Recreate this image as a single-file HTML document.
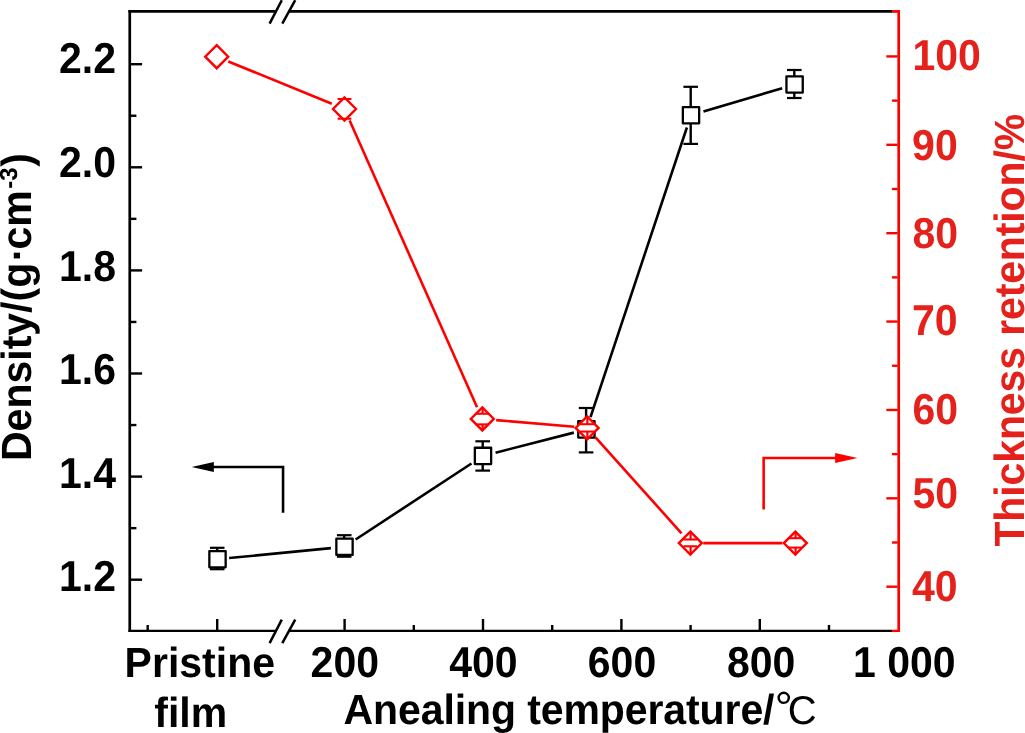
<!DOCTYPE html>
<html lang="en"><head><meta charset="utf-8"><title>Density and thickness retention vs annealing temperature</title>
<style>
html,body{margin:0;padding:0;background:#fff;}
body{width:1025px;height:733px;overflow:hidden;}
svg{display:block;}
text{font-family:"Liberation Sans","Noto Sans CJK SC",sans-serif;font-weight:bold;font-size:41px;text-rendering:geometricPrecision;}
.r{fill:#e5211b;}
.k{fill:#000000;}
</style></head><body>
<svg width="1025" height="733" viewBox="0 0 1025 733">
<rect x="0" y="0" width="1025" height="733" fill="#ffffff"/>
<g id="axes">
<line x1="128.40" y1="11.45" x2="275.70" y2="11.45" stroke="#000000" stroke-width="2.80" stroke-linecap="butt"/>
<line x1="288.70" y1="11.45" x2="892.00" y2="11.45" stroke="#000000" stroke-width="2.80" stroke-linecap="butt"/>
<line x1="128.40" y1="630.90" x2="275.70" y2="630.90" stroke="#000000" stroke-width="2.35" stroke-linecap="butt"/>
<line x1="288.70" y1="630.90" x2="892.00" y2="630.90" stroke="#000000" stroke-width="2.35" stroke-linecap="butt"/>
<line x1="129.75" y1="10.05" x2="129.75" y2="632.10" stroke="#000000" stroke-width="2.70" stroke-linecap="butt"/>
<line x1="898.70" y1="10.05" x2="898.70" y2="632.10" stroke="#ff0000" stroke-width="2.70" stroke-linecap="butt"/>
<line x1="891.90" y1="11.45" x2="898.70" y2="11.45" stroke="#ff0000" stroke-width="2.80" stroke-linecap="butt"/>
<line x1="891.90" y1="630.90" x2="898.70" y2="630.90" stroke="#ff0000" stroke-width="2.35" stroke-linecap="butt"/>
<line x1="269.60" y1="643.10" x2="281.80" y2="619.70" stroke="#000000" stroke-width="2.50" stroke-linecap="butt"/>
<line x1="269.60" y1="23.65" x2="281.80" y2="0.25" stroke="#000000" stroke-width="2.50" stroke-linecap="butt"/>
<line x1="282.30" y1="643.10" x2="295.20" y2="619.70" stroke="#000000" stroke-width="2.50" stroke-linecap="butt"/>
<line x1="282.30" y1="23.65" x2="295.20" y2="0.25" stroke="#000000" stroke-width="2.50" stroke-linecap="butt"/>
</g>
<g id="ticks">
<line x1="130.80" y1="579.70" x2="142.10" y2="579.70" stroke="#000000" stroke-width="2.40" stroke-linecap="butt"/>
<line x1="130.80" y1="476.60" x2="142.10" y2="476.60" stroke="#000000" stroke-width="2.40" stroke-linecap="butt"/>
<line x1="130.80" y1="373.50" x2="142.10" y2="373.50" stroke="#000000" stroke-width="2.40" stroke-linecap="butt"/>
<line x1="130.80" y1="270.40" x2="142.10" y2="270.40" stroke="#000000" stroke-width="2.40" stroke-linecap="butt"/>
<line x1="130.80" y1="167.30" x2="142.10" y2="167.30" stroke="#000000" stroke-width="2.40" stroke-linecap="butt"/>
<line x1="130.80" y1="64.20" x2="142.10" y2="64.20" stroke="#000000" stroke-width="2.40" stroke-linecap="butt"/>
<line x1="130.80" y1="528.15" x2="136.40" y2="528.15" stroke="#000000" stroke-width="2.40" stroke-linecap="butt"/>
<line x1="130.80" y1="425.05" x2="136.40" y2="425.05" stroke="#000000" stroke-width="2.40" stroke-linecap="butt"/>
<line x1="130.80" y1="321.95" x2="136.40" y2="321.95" stroke="#000000" stroke-width="2.40" stroke-linecap="butt"/>
<line x1="130.80" y1="218.85" x2="136.40" y2="218.85" stroke="#000000" stroke-width="2.40" stroke-linecap="butt"/>
<line x1="130.80" y1="115.75" x2="136.40" y2="115.75" stroke="#000000" stroke-width="2.40" stroke-linecap="butt"/>
<line x1="897.65" y1="586.70" x2="886.35" y2="586.70" stroke="#ff0000" stroke-width="2.40" stroke-linecap="butt"/>
<line x1="897.65" y1="498.32" x2="886.35" y2="498.32" stroke="#ff0000" stroke-width="2.40" stroke-linecap="butt"/>
<line x1="897.65" y1="409.94" x2="886.35" y2="409.94" stroke="#ff0000" stroke-width="2.40" stroke-linecap="butt"/>
<line x1="897.65" y1="321.56" x2="886.35" y2="321.56" stroke="#ff0000" stroke-width="2.40" stroke-linecap="butt"/>
<line x1="897.65" y1="233.18" x2="886.35" y2="233.18" stroke="#ff0000" stroke-width="2.40" stroke-linecap="butt"/>
<line x1="897.65" y1="144.80" x2="886.35" y2="144.80" stroke="#ff0000" stroke-width="2.40" stroke-linecap="butt"/>
<line x1="897.65" y1="56.42" x2="886.35" y2="56.42" stroke="#ff0000" stroke-width="2.40" stroke-linecap="butt"/>
<line x1="897.65" y1="542.51" x2="892.05" y2="542.51" stroke="#ff0000" stroke-width="2.40" stroke-linecap="butt"/>
<line x1="897.65" y1="454.13" x2="892.05" y2="454.13" stroke="#ff0000" stroke-width="2.40" stroke-linecap="butt"/>
<line x1="897.65" y1="365.75" x2="892.05" y2="365.75" stroke="#ff0000" stroke-width="2.40" stroke-linecap="butt"/>
<line x1="897.65" y1="277.37" x2="892.05" y2="277.37" stroke="#ff0000" stroke-width="2.40" stroke-linecap="butt"/>
<line x1="897.65" y1="188.99" x2="892.05" y2="188.99" stroke="#ff0000" stroke-width="2.40" stroke-linecap="butt"/>
<line x1="897.65" y1="100.61" x2="892.05" y2="100.61" stroke="#ff0000" stroke-width="2.40" stroke-linecap="butt"/>
<line x1="217.20" y1="630.10" x2="217.20" y2="619.00" stroke="#000000" stroke-width="2.40" stroke-linecap="butt"/>
<line x1="344.60" y1="630.10" x2="344.60" y2="619.00" stroke="#000000" stroke-width="2.40" stroke-linecap="butt"/>
<line x1="483.00" y1="630.10" x2="483.00" y2="619.00" stroke="#000000" stroke-width="2.40" stroke-linecap="butt"/>
<line x1="621.40" y1="630.10" x2="621.40" y2="619.00" stroke="#000000" stroke-width="2.40" stroke-linecap="butt"/>
<line x1="759.80" y1="630.10" x2="759.80" y2="619.00" stroke="#000000" stroke-width="2.40" stroke-linecap="butt"/>
<line x1="147.70" y1="630.10" x2="147.70" y2="625.00" stroke="#000000" stroke-width="2.40" stroke-linecap="butt"/>
<line x1="413.80" y1="630.10" x2="413.80" y2="625.00" stroke="#000000" stroke-width="2.40" stroke-linecap="butt"/>
<line x1="552.20" y1="630.10" x2="552.20" y2="625.00" stroke="#000000" stroke-width="2.40" stroke-linecap="butt"/>
<line x1="690.60" y1="630.10" x2="690.60" y2="625.00" stroke="#000000" stroke-width="2.40" stroke-linecap="butt"/>
<line x1="829.00" y1="630.10" x2="829.00" y2="625.00" stroke="#000000" stroke-width="2.40" stroke-linecap="butt"/>
</g>
<g id="series-density">
<line x1="229.14" y1="558.06" x2="330.86" y2="548.13" stroke="#000000" stroke-width="2.60" stroke-linecap="butt"/>
<line x1="355.62" y1="539.50" x2="471.46" y2="463.47" stroke="#000000" stroke-width="2.60" stroke-linecap="butt"/>
<line x1="495.59" y1="452.67" x2="573.81" y2="432.63" stroke="#000000" stroke-width="2.60" stroke-linecap="butt"/>
<line x1="590.51" y1="417.07" x2="686.89" y2="127.53" stroke="#000000" stroke-width="2.60" stroke-linecap="butt"/>
<line x1="703.46" y1="111.50" x2="782.14" y2="88.15" stroke="#000000" stroke-width="2.60" stroke-linecap="butt"/>
<line x1="217.20" y1="547.80" x2="217.20" y2="569.20" stroke="#000000" stroke-width="2.40" stroke-linecap="butt"/>
<line x1="209.90" y1="547.80" x2="224.50" y2="547.80" stroke="#000000" stroke-width="2.20" stroke-linecap="butt"/>
<line x1="209.90" y1="569.20" x2="224.50" y2="569.20" stroke="#000000" stroke-width="2.20" stroke-linecap="butt"/>
<line x1="344.20" y1="535.20" x2="344.20" y2="556.70" stroke="#000000" stroke-width="2.40" stroke-linecap="butt"/>
<line x1="336.90" y1="535.20" x2="351.50" y2="535.20" stroke="#000000" stroke-width="2.20" stroke-linecap="butt"/>
<line x1="336.90" y1="556.70" x2="351.50" y2="556.70" stroke="#000000" stroke-width="2.20" stroke-linecap="butt"/>
<line x1="482.70" y1="441.30" x2="482.70" y2="470.60" stroke="#000000" stroke-width="2.40" stroke-linecap="butt"/>
<line x1="475.40" y1="441.30" x2="490.00" y2="441.30" stroke="#000000" stroke-width="2.20" stroke-linecap="butt"/>
<line x1="475.40" y1="470.60" x2="490.00" y2="470.60" stroke="#000000" stroke-width="2.20" stroke-linecap="butt"/>
<line x1="586.10" y1="408.00" x2="586.10" y2="452.40" stroke="#000000" stroke-width="2.40" stroke-linecap="butt"/>
<line x1="578.80" y1="408.00" x2="593.40" y2="408.00" stroke="#000000" stroke-width="2.20" stroke-linecap="butt"/>
<line x1="578.80" y1="452.40" x2="593.40" y2="452.40" stroke="#000000" stroke-width="2.20" stroke-linecap="butt"/>
<line x1="690.70" y1="86.80" x2="690.70" y2="143.90" stroke="#000000" stroke-width="2.40" stroke-linecap="butt"/>
<line x1="683.40" y1="86.80" x2="698.00" y2="86.80" stroke="#000000" stroke-width="2.20" stroke-linecap="butt"/>
<line x1="683.40" y1="143.90" x2="698.00" y2="143.90" stroke="#000000" stroke-width="2.20" stroke-linecap="butt"/>
<line x1="794.30" y1="70.00" x2="794.30" y2="98.00" stroke="#000000" stroke-width="2.40" stroke-linecap="butt"/>
<line x1="787.00" y1="70.00" x2="801.60" y2="70.00" stroke="#000000" stroke-width="2.20" stroke-linecap="butt"/>
<line x1="787.00" y1="98.00" x2="801.60" y2="98.00" stroke="#000000" stroke-width="2.20" stroke-linecap="butt"/>
<rect x="209.35" y="551.05" width="16.30" height="16.30" fill="#ffffff" stroke="#000000" stroke-width="2.3" stroke-linejoin="round"/>
<rect x="336.35" y="538.65" width="16.30" height="16.30" fill="#ffffff" stroke="#000000" stroke-width="2.3" stroke-linejoin="round"/>
<rect x="474.85" y="447.75" width="16.30" height="16.30" fill="#ffffff" stroke="#000000" stroke-width="2.3" stroke-linejoin="round"/>
<rect x="578.25" y="421.25" width="16.30" height="16.30" fill="#ffffff" stroke="#000000" stroke-width="2.3" stroke-linejoin="round"/>
<rect x="682.85" y="107.05" width="16.30" height="16.30" fill="#ffffff" stroke="#000000" stroke-width="2.3" stroke-linejoin="round"/>
<rect x="786.45" y="76.30" width="16.30" height="16.30" fill="#ffffff" stroke="#000000" stroke-width="2.3" stroke-linejoin="round"/>
</g>
<g id="series-thickness">
<line x1="228.27" y1="61.43" x2="331.82" y2="103.81" stroke="#ff0000" stroke-width="2.60" stroke-linecap="butt"/>
<line x1="349.62" y1="120.51" x2="477.06" y2="407.16" stroke="#ff0000" stroke-width="2.60" stroke-linecap="butt"/>
<line x1="496.15" y1="420.13" x2="574.25" y2="426.80" stroke="#ff0000" stroke-width="2.60" stroke-linecap="butt"/>
<line x1="595.51" y1="437.28" x2="681.49" y2="533.27" stroke="#ff0000" stroke-width="2.60" stroke-linecap="butt"/>
<line x1="703.20" y1="543.10" x2="782.40" y2="543.10" stroke="#ff0000" stroke-width="2.60" stroke-linecap="butt"/>
<path d="M216.70 45.20 L228.20 56.70 L216.70 68.20 L205.20 56.70 Z" fill="#ffffff" stroke="#ff0000" stroke-width="2.4" stroke-linejoin="miter"/>
<path d="M344.50 97.50 L356.00 109.00 L344.50 120.50 L333.00 109.00 Z" fill="#ffffff" stroke="#ff0000" stroke-width="2.4" stroke-linejoin="miter"/>
<line x1="344.80" y1="97.00" x2="344.80" y2="99.00" stroke="#ff0000" stroke-width="2.20" stroke-linecap="butt"/>
<line x1="344.80" y1="118.70" x2="344.80" y2="121.00" stroke="#ff0000" stroke-width="2.20" stroke-linecap="butt"/>
<line x1="337.60" y1="99.00" x2="351.40" y2="99.00" stroke="#ff0000" stroke-width="2.10" stroke-linecap="butt"/>
<line x1="337.60" y1="118.70" x2="351.40" y2="118.70" stroke="#ff0000" stroke-width="2.10" stroke-linecap="butt"/>
<path d="M482.30 407.45 L493.80 418.95 L482.30 430.45 L470.80 418.95 Z" fill="#ffffff" stroke="#ff0000" stroke-width="2.4" stroke-linejoin="miter"/>
<line x1="482.60" y1="406.95" x2="482.60" y2="413.75" stroke="#ff0000" stroke-width="2.20" stroke-linecap="butt"/>
<line x1="482.60" y1="424.40" x2="482.60" y2="430.95" stroke="#ff0000" stroke-width="2.20" stroke-linecap="butt"/>
<line x1="475.40" y1="413.75" x2="489.20" y2="413.75" stroke="#ff0000" stroke-width="2.10" stroke-linecap="butt"/>
<line x1="475.40" y1="424.40" x2="489.20" y2="424.40" stroke="#ff0000" stroke-width="2.10" stroke-linecap="butt"/>
<path d="M587.10 416.40 L598.60 427.90 L587.10 439.40 L575.60 427.90 Z" fill="#ffffff" stroke="#ff0000" stroke-width="2.4" stroke-linejoin="miter"/>
<line x1="587.40" y1="415.90" x2="587.40" y2="424.20" stroke="#ff0000" stroke-width="2.20" stroke-linecap="butt"/>
<line x1="587.40" y1="431.55" x2="587.40" y2="439.90" stroke="#ff0000" stroke-width="2.20" stroke-linecap="butt"/>
<line x1="580.20" y1="424.20" x2="594.00" y2="424.20" stroke="#ff0000" stroke-width="2.10" stroke-linecap="butt"/>
<line x1="580.20" y1="431.55" x2="594.00" y2="431.55" stroke="#ff0000" stroke-width="2.10" stroke-linecap="butt"/>
<path d="M690.30 531.60 L701.80 543.10 L690.30 554.60 L678.80 543.10 Z" fill="#ffffff" stroke="#ff0000" stroke-width="2.4" stroke-linejoin="miter"/>
<line x1="690.60" y1="531.10" x2="690.60" y2="539.50" stroke="#ff0000" stroke-width="2.20" stroke-linecap="butt"/>
<line x1="690.60" y1="546.30" x2="690.60" y2="555.10" stroke="#ff0000" stroke-width="2.20" stroke-linecap="butt"/>
<line x1="683.40" y1="539.50" x2="697.20" y2="539.50" stroke="#ff0000" stroke-width="2.10" stroke-linecap="butt"/>
<line x1="683.40" y1="546.30" x2="697.20" y2="546.30" stroke="#ff0000" stroke-width="2.10" stroke-linecap="butt"/>
<path d="M795.30 531.60 L806.80 543.10 L795.30 554.60 L783.80 543.10 Z" fill="#ffffff" stroke="#ff0000" stroke-width="2.4" stroke-linejoin="miter"/>
<line x1="795.60" y1="531.10" x2="795.60" y2="538.20" stroke="#ff0000" stroke-width="2.20" stroke-linecap="butt"/>
<line x1="795.60" y1="547.60" x2="795.60" y2="555.10" stroke="#ff0000" stroke-width="2.20" stroke-linecap="butt"/>
<line x1="788.40" y1="538.20" x2="802.20" y2="538.20" stroke="#ff0000" stroke-width="2.10" stroke-linecap="butt"/>
<line x1="788.40" y1="547.60" x2="802.20" y2="547.60" stroke="#ff0000" stroke-width="2.10" stroke-linecap="butt"/>
</g>
<g id="arrows">
<path d="M283.05 512.7 L283.05 467 L213 467" fill="none" stroke="#000000" stroke-width="2.6" stroke-linejoin="miter"/>
<path d="M191.7 467 L213.8 462.1 L213.8 471.9 Z" fill="#000000"/>
<path d="M763.65 509.6 L763.65 458 L836 458" fill="none" stroke="#ff0000" stroke-width="2.6" stroke-linejoin="miter"/>
<path d="M857.5 458 L835.1 453.1 L835.1 462.9 Z" fill="#ff0000"/>
</g>
<g id="labels">
<text class="k" transform="translate(116.00 73.00) scale(1 1.055)" text-anchor="end">2.2</text>
<text class="k" transform="translate(116.00 177.00) scale(1 1.055)" text-anchor="end">2.0</text>
<text class="k" transform="translate(116.00 281.00) scale(1 1.055)" text-anchor="end">1.8</text>
<text class="k" transform="translate(116.00 384.00) scale(1 1.055)" text-anchor="end">1.6</text>
<text class="k" transform="translate(116.00 488.00) scale(1 1.055)" text-anchor="end">1.4</text>
<text class="k" transform="translate(116.00 591.00) scale(1 1.055)" text-anchor="end">1.2</text>
<text class="r" transform="translate(912.40 70.00) scale(1 1.055)">100</text>
<text class="r" transform="translate(912.10 160.20) scale(1 1.055)">90</text>
<text class="r" transform="translate(912.40 247.90) scale(1 1.055)">80</text>
<text class="r" transform="translate(912.00 335.10) scale(1 1.055)">70</text>
<text class="r" transform="translate(912.40 424.40) scale(1 1.055)">60</text>
<text class="r" transform="translate(912.40 508.40) scale(1 1.055)">50</text>
<text class="r" transform="translate(912.00 601.40) scale(1 1.055)">40</text>
<text class="k" transform="translate(124.60 676.60) scale(1 1.030)">Pristine</text>
<text class="k" transform="translate(154.30 726.90) scale(1 1.030)">film</text>
<text class="k" transform="translate(344.80 676.60) scale(1 1.055)" text-anchor="middle">200</text>
<text class="k" transform="translate(483.40 676.60) scale(1 1.055)" text-anchor="middle">400</text>
<text class="k" transform="translate(622.00 676.60) scale(1 1.055)" text-anchor="middle">600</text>
<text class="k" transform="translate(761.20 676.60) scale(1 1.055)" text-anchor="middle">800</text>
<text class="k" transform="translate(853.00 676.60) scale(1 1.055)">1 000</text>
<text class="k" transform="translate(343.60 724.30) scale(1 1.030)" style="letter-spacing:-0.1px">Anealing temperature/</text>
<text class="k" style="font-weight:normal"><tspan x="774.7" y="722.6" style="font-size:45px">°</tspan><tspan x="787.7" y="723.9" style="font-size:40px">C</tspan></text>
<text class="k" transform="translate(31.00 461.00) rotate(-90) scale(1 1.030)">Density/(g<tspan dx="1.5">·</tspan><tspan dx="-1.8">cm</tspan><tspan dx="1.5" dy="-13.3" style="font-size:23.9px">-3</tspan><tspan dx="0.8" dy="13.3">)</tspan></text>
<text class="r" transform="translate(1024.20 546.60) rotate(-90) scale(1 1.030)" style="letter-spacing:-0.12px">Thickness retention/%</text>
</g>
</svg>
</body></html>
